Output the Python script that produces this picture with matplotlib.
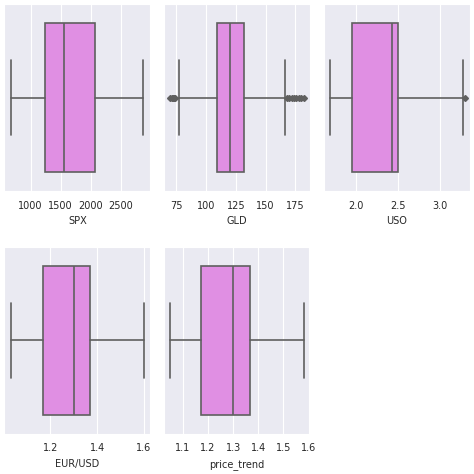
import matplotlib
matplotlib.use('Agg')
import matplotlib.pyplot as plt
import seaborn as sns

sns.set_style('darkgrid')

columns = ['SPX', 'GLD', 'USO', 'EUR/USD', 'price_trend']
whislo = [676, 77, 1.69, 1.03, 1.05]
q1 = [1240, 109, 1.95, 1.166, 1.17]
med = [1550, 120, 2.42, 1.30, 1.30]
q3 = [2070, 132, 2.49, 1.37, 1.365]
whishi = [2870, 166, 3.27, 1.60, 1.58]
fliers = [[], [70, 71, 72, 73, 74, 168, 170, 172, 174, 176, 178, 180, 182], [3.29], [], []]
xticks = [[1000, 1500, 2000, 2500], [75, 100, 125, 150, 175], [2.0, 2.5, 3.0],
          [1.2, 1.4, 1.6], [1.1, 1.2, 1.3, 1.4, 1.5, 1.6]]

fig, axes = plt.subplots(2, 3, figsize=(4.74, 4.74), dpi=100)
axes = axes.flatten()
for i, col in enumerate(columns):
    ax = axes[i]
    stats = [dict(whislo=whislo[i], q1=q1[i], med=med[i], q3=q3[i], whishi=whishi[i], fliers=fliers[i])]
    ax.bxp(stats, vert=False, widths=0.8, patch_artist=True,
           boxprops=dict(facecolor='#e08fe3', edgecolor='#5f5f5f', linewidth=1.2),
           medianprops=dict(color='#5f5f5f', linewidth=1.2),
           whiskerprops=dict(color='#5f5f5f', linewidth=1.2),
           capprops=dict(color='#5f5f5f', linewidth=1.2),
           flierprops=dict(marker='D', markerfacecolor='#5f5f5f', markeredgecolor='#5f5f5f', markersize=3))
    ax.set_yticks([])
    ax.set_ylim(0.5, 1.5)
    ax.set_xticks(xticks[i])
    ax.set_xlabel(col, fontsize=7)
    ax.tick_params(labelsize=7)
    ax.grid(axis='y', visible=False)
axes[5].axis('off')
axes[0].set_xlim(560, 2990)
axes[2].set_xlim(1.61, 3.35)
plt.tight_layout(pad=0.3, w_pad=0.5, h_pad=1.5)
plt.savefig('out.png')
